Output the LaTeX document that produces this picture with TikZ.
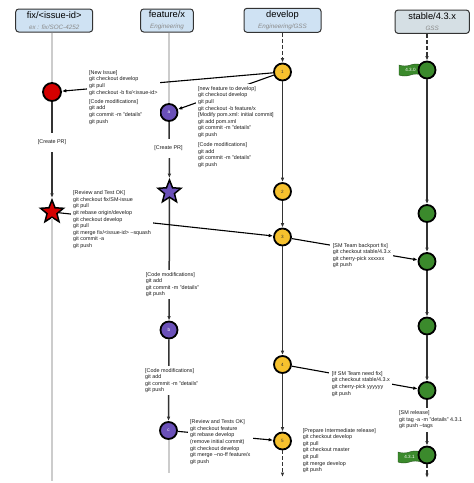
\documentclass[tikz,border=0pt]{standalone}
\usepackage{fontspec}
\setmainfont{Liberation Sans}
\usetikzlibrary{shapes.geometric,shapes.symbols,arrows.meta}
\definecolor{hdrblue}{HTML}{CFE2F3}
\definecolor{hdrgray}{HTML}{D5DFE4}
\definecolor{yel}{HTML}{F6C12E}
\definecolor{grn}{HTML}{3B8A2C}
\definecolor{pur}{HTML}{6A50B8}
\definecolor{redc}{HTML}{D40000}
\definecolor{lanegray}{HTML}{CCCCCC}
\definecolor{dark}{HTML}{333333}
\definecolor{subgray}{HTML}{8A8A8A}
\tikzset{
  hdr/.style={draw=dark, line width=1pt, rounded corners=3pt, fill=hdrblue, align=center, inner sep=0pt},
  commit/.style={circle, draw=black, line width=1.8pt, minimum size=17pt, inner sep=0pt, font=\fontsize{4.6}{5}\selectfont},
  devc/.style={commit, fill=yel, text=dark},
  stc/.style={commit, fill=grn},
  featc/.style={commit, fill=pur, text=white},
  fixc/.style={commit, fill=redc, minimum size=18pt},
  starnode/.style={star, star points=5, star point ratio=2.3, minimum size=24pt, inner sep=0pt, draw=black, line width=1.5pt},
  txt/.style={anchor=north west, align=left, inner sep=2.5pt, fill=white, font=\fontsize{5.4}{6.6}\selectfont, text=black!90},
  prlabel/.style={fill=white, inner xsep=1pt, inner ysep=7pt, font=\fontsize{5.4}{6.6}\selectfont, text=black!90},
  flow/.style={draw=dark, line width=1.5pt, -{Latex[length=4.5pt,width=3.6pt]}},
  cross/.style={draw=black, line width=1.1pt, -{Latex[length=4.5pt,width=3.6pt]}},
  dashflow/.style={draw=dark, line width=1.7pt, dash pattern=on 4pt off 2pt, -{Latex[length=4.5pt,width=3.6pt]}},
  lanel/.style={draw=lanegray, line width=2pt},
  tag/.style={tape, tape bend height=2pt, fill=grn, draw=grn!60!black, line width=0.4pt, minimum width=23pt, minimum height=12pt, inner sep=0pt, text=white, font=\fontsize{4.6}{5}\selectfont}
}
\begin{document}
\begin{tikzpicture}[x=1pt,y=-1pt]
\useasboundingbox (0,0) rectangle (474,483);
% headers
\node[hdr, minimum width=77pt, minimum height=23pt] (hfix) at (54.2,20.5)
  {{\fontsize{9.3}{10}\selectfont fix/<issue-id>}\\[-0.5pt]{\fontsize{6.3}{7}\selectfont\itshape\color{subgray} ex : fix/SOC-4252}};
\node[hdr, minimum width=52.6pt, minimum height=23pt] (hfeat) at (167,20.5)
  {{\fontsize{9.3}{10}\selectfont feature/x}\\[-0.5pt]{\fontsize{6.3}{7}\selectfont\itshape\color{subgray} Engineering}};
\node[hdr, minimum width=77pt, minimum height=24pt] (hdev) at (282.5,20.3)
  {{\fontsize{9.3}{10}\selectfont develop}\\[-0.5pt]{\fontsize{6.3}{7}\selectfont\itshape\color{subgray} Engineering/GSS}};
\node[hdr, fill=hdrgray, minimum width=74.3pt, minimum height=23.3pt] (hst) at (432.2,21.7)
  {{\fontsize{9.3}{10}\selectfont stable/4.3.x}\\[-0.5pt]{\fontsize{6.3}{7}\selectfont\itshape\color{subgray} GSS}};
% tags (behind circles)
\node[tag] (tag430) at (410.5,70) {4.3.0};
\node[tag] (tag431) at (409.5,457) {4.3.1};
% commits
\node[fixc] (red) at (52,92) {};
\node[starnode, fill=redc] (rstar) at (52,212) {};
\node[featc] (fa) at (169,112.5) {a};
\node[starnode, fill=pur] (pstar) at (169.5,192) {};
\node[featc] (fb) at (169,330) {b};
\node[featc] (fc) at (168.5,430.5) {c};
\node[devc] (d1) at (282.5,72) {1};
\node[devc] (d2) at (282.5,191.5) {2};
\node[devc] (d3) at (282.5,237) {3};
\node[devc] (d4) at (282.5,364.5) {4};
\node[devc] (d5) at (282.5,441) {5};
\node[stc] (s0) at (427,70) {};
\node[stc] (s1) at (427,213.5) {};
\node[stc] (s2) at (427,261.5) {};
\node[stc] (s3) at (427,326) {};
\node[stc] (s4) at (427,390.5) {};
\node[stc] (s5) at (427,455) {};
% end coordinates
\coordinate (fixend) at (52,481);
\coordinate (featend) at (168.5,473);
\coordinate (devend) at (282.5,477);
\coordinate (stend) at (427,478);
% light lanes
\draw[lanel] (red |- hfix.south) -- (red);
\draw[lanel] (rstar) -- (fixend);
\draw[lanel] (fa |- hfeat.south) -- (fa);
\draw[lanel] (fc) -- (featend);
% dashed lanes
\draw[dashflow] (hdev.south) -- (d1);
\draw[dashflow] (d5) -- (devend);
\draw[dashflow] (s0 |- hst.south) -- (s0);
\draw[dashflow] (s5) -- (stend);
% branch flows
\draw[flow] (red) -- (rstar);
\draw[flow] (fa) -- (pstar);
\draw[flow] (pstar) -- (fb);
\draw[flow] (fb) -- (fc);
\draw[flow] (d1) -- (d2);
\draw[flow] (d2) -- (d3);
\draw[flow] (d3) -- (d4);
\draw[flow] (d4) -- (d5);
\draw[flow] (s0) -- (s1);
\draw[flow] (s1) -- (s2);
\draw[flow] (s2) -- (s3);
\draw[flow] (s3) -- (s4);
\draw[flow] (s4) -- (s5);
% cross flows
\draw[cross] (d1) -- (red);
\draw[cross] (d1) -- (fa);
\draw[cross] (rstar) -- (d3);
\draw[cross] (d3) -- (s2);
\draw[cross] (d4) -- (s4);
\draw[cross] (fc) -- (d5);
% labels
\node[prlabel] (pr1) at (52,142.5) {[Create PR]};
\node[prlabel] (pr2) at (168.5,148.5) {[Create PR]};
\node[txt] (t1) at (86.5,67.7) {{[New Issue]}\\git checkout develop\\git pull\\git checkout -b fix/<issue-id>\\[2.6pt]{[Code modifications]}\\git add\\git commit -m "details"\\git push};
\node[txt] (t2) at (195.5,83.7) {{[new feature to develop]}\\git checkout develop\\git pull\\git checkout -b feature/x\\{[Modify pom.xml: initial commit]}\\git add pom.xml\\git commit -m "details"\\git push\\[3.3pt]{[Code modifications]}\\git add\\git commit -m "details"\\git push};
\node[txt] (t3) at (70.5,188.1) {{[Review and Test OK]}\\git checkout fix/SM-issue\\git pull\\git rebase origin/develop\\git checkout develop\\git pull\\git merge fix/<issue-id> --squash\\git commit -a\\git push};
\node[txt] (t4) at (143.2,269.4) {{[Code modifications]}\\git add\\git commit -m "details"\\git push};
\node[txt] (t5) at (142.5,365.4) {{[Code modifications]}\\git add\\git commit -m "details"\\git push};
\node[txt] (t6) at (187.5,417.1) {{[Review and Tests OK]}\\git checkout feature\\git rebase develop\\(remove initial commit)\\git checkout develop\\git merge --no-ff feature/x\\git push};
\node[txt] (t7) at (330.2,240.4) {{[SM Team backport fix]}\\git checkout stable/4.3.x\\git cherry-pick xxxxxx\\git push};
\node[txt] (t8) at (329.2,368.7) {{[If SM Team need fix]}\\git checkout stable/4.3.x\\git cherry-pick yyyyyy\\git push};
\node[txt] (t9) at (396.5,408.1) {{[SM release]}\\git tag -a -m "details" 4.3.1\\git push --tags};
\node[txt] (t10) at (300.2,425.4) {{[Prepare Intermediate release]}\\git checkout develop\\git pull\\git checkout master\\git pull\\git merge develop\\git push};
\end{tikzpicture}
\end{document}
